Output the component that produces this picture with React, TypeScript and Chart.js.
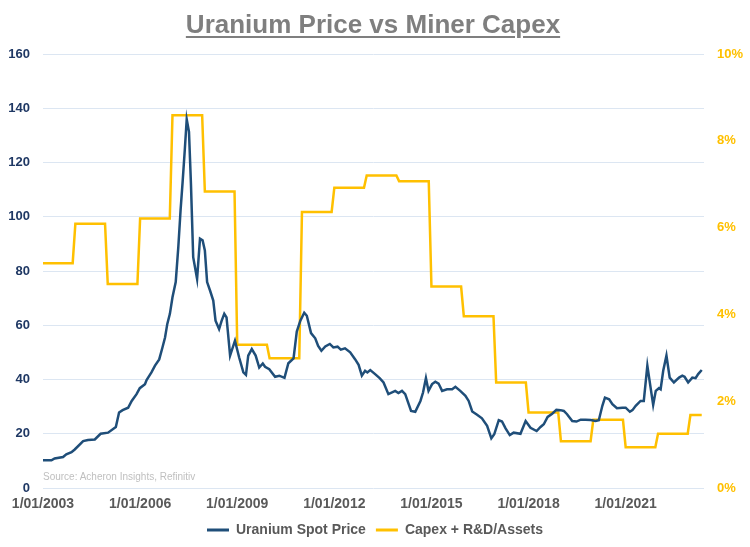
import React, { useEffect, useRef } from 'react';
import Chart from 'chart.js/auto';

// Uranium spot price (US$/lb), x = decimal year
const uraniumDates = [
  2003.00, 2003.26, 2003.36, 2003.62, 2003.72, 2003.88, 2003.98, 2004.24, 2004.39, 2004.60,
  2004.78, 2005.01, 2005.25, 2005.35, 2005.46, 2005.63, 2005.74, 2005.89, 2005.99, 2006.15,
  2006.20, 2006.35, 2006.46, 2006.59, 2006.69, 2006.77, 2006.84, 2006.92, 2007.00, 2007.10,
  2007.18, 2007.25, 2007.31, 2007.38, 2007.44, 2007.51, 2007.57, 2007.64, 2007.76, 2007.85,
  2007.93, 2008.00, 2008.07, 2008.16, 2008.26, 2008.33, 2008.44, 2008.52, 2008.60, 2008.67,
  2008.78, 2008.93, 2009.06, 2009.19, 2009.27, 2009.34, 2009.45, 2009.57, 2009.68, 2009.79,
  2009.86, 2009.99, 2010.17, 2010.30, 2010.46, 2010.58, 2010.74, 2010.84, 2010.95, 2011.07,
  2011.15, 2011.28, 2011.41, 2011.50, 2011.60, 2011.72, 2011.86, 2011.97, 2012.10, 2012.20,
  2012.33, 2012.49, 2012.64, 2012.75, 2012.85, 2012.95, 2013.02, 2013.11, 2013.26, 2013.40,
  2013.52, 2013.67, 2013.88, 2013.98, 2014.09, 2014.19, 2014.37, 2014.50, 2014.66, 2014.74,
  2014.83, 2014.91, 2015.02, 2015.12, 2015.22, 2015.33, 2015.48, 2015.64, 2015.74, 2015.89,
  2016.05, 2016.15, 2016.26, 2016.41, 2016.56, 2016.72, 2016.85, 2016.94, 2017.08, 2017.18,
  2017.29, 2017.42, 2017.54, 2017.75, 2017.91, 2018.06, 2018.25, 2018.37, 2018.47, 2018.59,
  2018.73, 2018.86, 2018.99, 2019.09, 2019.19, 2019.35, 2019.48, 2019.61, 2019.76, 2019.92,
  2020.07, 2020.17, 2020.28, 2020.36, 2020.49, 2020.59, 2020.73, 2020.90, 2021.00, 2021.13,
  2021.21, 2021.31, 2021.46, 2021.56, 2021.67, 2021.77, 2021.85, 2021.93, 2022.03, 2022.08,
  2022.16, 2022.26, 2022.36, 2022.49, 2022.65, 2022.75, 2022.82, 2022.93, 2023.06, 2023.16,
  2023.24, 2023.35,
];
const uraniumPrices = [
  10.2, 10.2, 10.9, 11.4, 12.4, 13.2, 14.2, 17.3, 17.7, 17.9,
  20.0, 20.4, 22.5, 27.8, 28.7, 29.6, 32.1, 34.6, 36.8, 38.3,
  39.8, 42.6, 45.1, 47.4, 51.8, 55.5, 60.5, 64.2, 70.3, 75.9,
  88.8, 102.4, 112.3, 124.6, 135.9, 131.3, 112.3, 85.1, 77.1, 91.9,
  91.3, 87.6, 75.9, 72.8, 69.1, 61.7, 58.6, 61.7, 64.2, 62.9,
  48.8, 54.3, 48.1, 42.6, 41.7, 48.8, 51.2, 48.8, 44.4, 45.9,
  44.7, 43.8, 41.0, 41.4, 40.6, 46.0, 47.8, 57.7, 61.7, 64.6,
  63.5, 57.1, 55.2, 52.4, 50.6, 52.2, 53.1, 51.8, 52.1, 51.0,
  51.5, 50.0, 47.5, 45.4, 41.4, 43.2, 42.6, 43.5, 42.0, 40.5,
  38.9, 34.6, 35.8, 35.0, 35.8, 34.6, 28.4, 28.1, 32.1, 35.2,
  40.5, 35.8, 38.3, 39.2, 38.5, 35.8, 36.4, 36.4, 37.3, 35.8,
  34.0, 32.1, 28.2, 27.0, 25.7, 22.9, 18.3, 19.8, 25.0, 24.5,
  22.0, 19.5, 20.4, 20.0, 24.7, 22.2, 21.0, 22.5, 23.5, 26.2,
  27.4, 28.8, 28.7, 28.4, 27.2, 24.7, 24.5, 25.2, 25.2, 25.1,
  24.7, 25.0, 30.3, 33.3, 32.7, 30.9, 29.4, 29.6, 29.6, 28.1,
  28.7, 30.3, 32.1, 32.1, 45.1, 37.0, 30.6, 35.8, 36.8, 36.4,
  43.2, 48.8, 40.7, 38.9, 40.7, 41.4, 41.0, 38.9, 40.7, 40.5,
  42.0, 43.5,
];

// Capex + R&D / Assets (%), one value per calendar year
const capexYears = [
  2003, 2004, 2005, 2006, 2007, 2008, 2009, 2010, 2011, 2012, 2013,
  2014, 2015, 2016, 2017, 2018, 2019, 2020, 2021, 2022, 2023,
];
const capexValues = [
  5.18, 6.09, 4.70, 6.21, 8.59, 6.83, 3.30, 2.99, 6.36, 6.92, 7.20,
  7.07, 4.64, 3.96, 2.43, 1.74, 1.08, 1.57, 0.94, 1.25, 1.68,
];

const lastDate = 2023.35;
const xTickYears = [2003, 2006, 2009, 2012, 2015, 2018, 2021];
const seriesNames = ['Uranium Spot Price', 'Capex + R&D/Assets'];

const FONT = "'Liberation Sans', Arial, sans-serif";

const App: React.FC = () => {
  const chartRef = useRef<HTMLCanvasElement>(null);
  const chartInstance = useRef<Chart | null>(null);

  useEffect(() => {
    if (!chartRef.current) return;
    if (chartInstance.current) chartInstance.current.destroy();

    const uraniumPoints = uraniumDates.map((d, i) => ({ x: d, y: uraniumPrices[i] }));
    // monthly series: value held Jan..Dec, then moves to next year's value
    const capexPoints = capexYears.flatMap((yr, i) => [
      { x: yr, y: capexValues[i] },
      { x: Math.min(yr + 11 / 12, lastDate), y: capexValues[i] },
    ]);

    chartInstance.current = new Chart(chartRef.current, {
      type: 'line',
      data: {
        datasets: [
          {
            label: seriesNames[0],
            data: uraniumPoints,
            borderColor: '#1f4e79',
            backgroundColor: '#1f4e79',
            borderWidth: 2.5,
            pointRadius: 0,
            yAxisID: 'y',
          },
          {
            label: seriesNames[1],
            data: capexPoints,
            borderColor: '#ffc000',
            backgroundColor: '#ffc000',
            borderWidth: 2.5,
            pointRadius: 0,
            yAxisID: 'y1',
          },
        ],
      },
      options: {
        animation: false,
        responsive: true,
        maintainAspectRatio: false,
        layout: { padding: { top: 54, left: 0, right: 0, bottom: 0 } },
        plugins: {
          tooltip: { enabled: false },
          legend: {
            position: 'bottom',
            labels: {
              boxWidth: 22,
              boxHeight: 3,
              padding: 10,
              color: '#595959',
              font: { family: FONT, size: 14, weight: 'bold' },
              generateLabels: (chart) =>
                Chart.defaults.plugins.legend.labels
                  .generateLabels(chart)
                  .map((l) => ({ ...l, lineWidth: 0 })),
            },
          },
        },
        scales: {
          x: {
            type: 'linear',
            min: 2003,
            max: 2023.42,
            afterBuildTicks: (scale) => {
              scale.ticks = xTickYears.map((v) => ({ value: v }));
            },
            afterFit: (scale) => {
              scale.height = 25;
            },
            ticks: {
              callback: (v) => `1/01/${v}`,
              color: '#595959',
              font: { family: FONT, size: 14, weight: 'bold' },
              padding: 8,
              maxRotation: 0,
              autoSkip: false,
            },
            grid: { display: false, drawTicks: false },
            border: { display: false },
          },
          y: {
            position: 'left',
            min: 0,
            max: 160,
            ticks: {
              stepSize: 20,
              color: '#1f3864',
              font: { family: FONT, size: 13, weight: 'bold' },
              padding: 13,
            },
            grid: { color: '#dce6f2', drawTicks: false },
            border: { display: false },
            afterFit: (scale) => {
              scale.width = 43;
            },
          },
          y1: {
            position: 'right',
            min: 0,
            max: 10,
            ticks: {
              stepSize: 2,
              callback: (v) => `${v}%`,
              color: '#ffc000',
              font: { family: FONT, size: 13, weight: 'bold' },
              padding: 13,
            },
            grid: { display: false, drawTicks: false },
            border: { display: false },
            afterFit: (scale) => {
              scale.width = 46;
            },
          },
        },
      },
    });

    return () => {
      if (chartInstance.current) {
        chartInstance.current.destroy();
        chartInstance.current = null;
      }
    };
  }, []);

  return (
    <div style={{ position: 'absolute', left: 0, top: 0, width: 750, height: 547, background: '#fff' }}>
      <canvas ref={chartRef}></canvas>
      <div
        style={{
          position: 'absolute',
          top: 9,
          left: 0,
          width: 746,
          textAlign: 'center',
          fontFamily: FONT,
          fontSize: 26,
          lineHeight: '30px',
          fontWeight: 'bold',
          color: '#7f7f7f',
          textDecoration: 'underline',
          textDecorationThickness: 2,
          textUnderlineOffset: 3,
        }}
      >
        Uranium Price vs Miner Capex
      </div>
      <div
        style={{
          position: 'absolute',
          top: 471,
          left: 43,
          fontFamily: FONT,
          fontSize: 10,
          lineHeight: '12px',
          color: '#bfbfbf',
        }}
      >
        Source: Acheron Insights, Refinitiv
      </div>
    </div>
  );
};

export default App;
